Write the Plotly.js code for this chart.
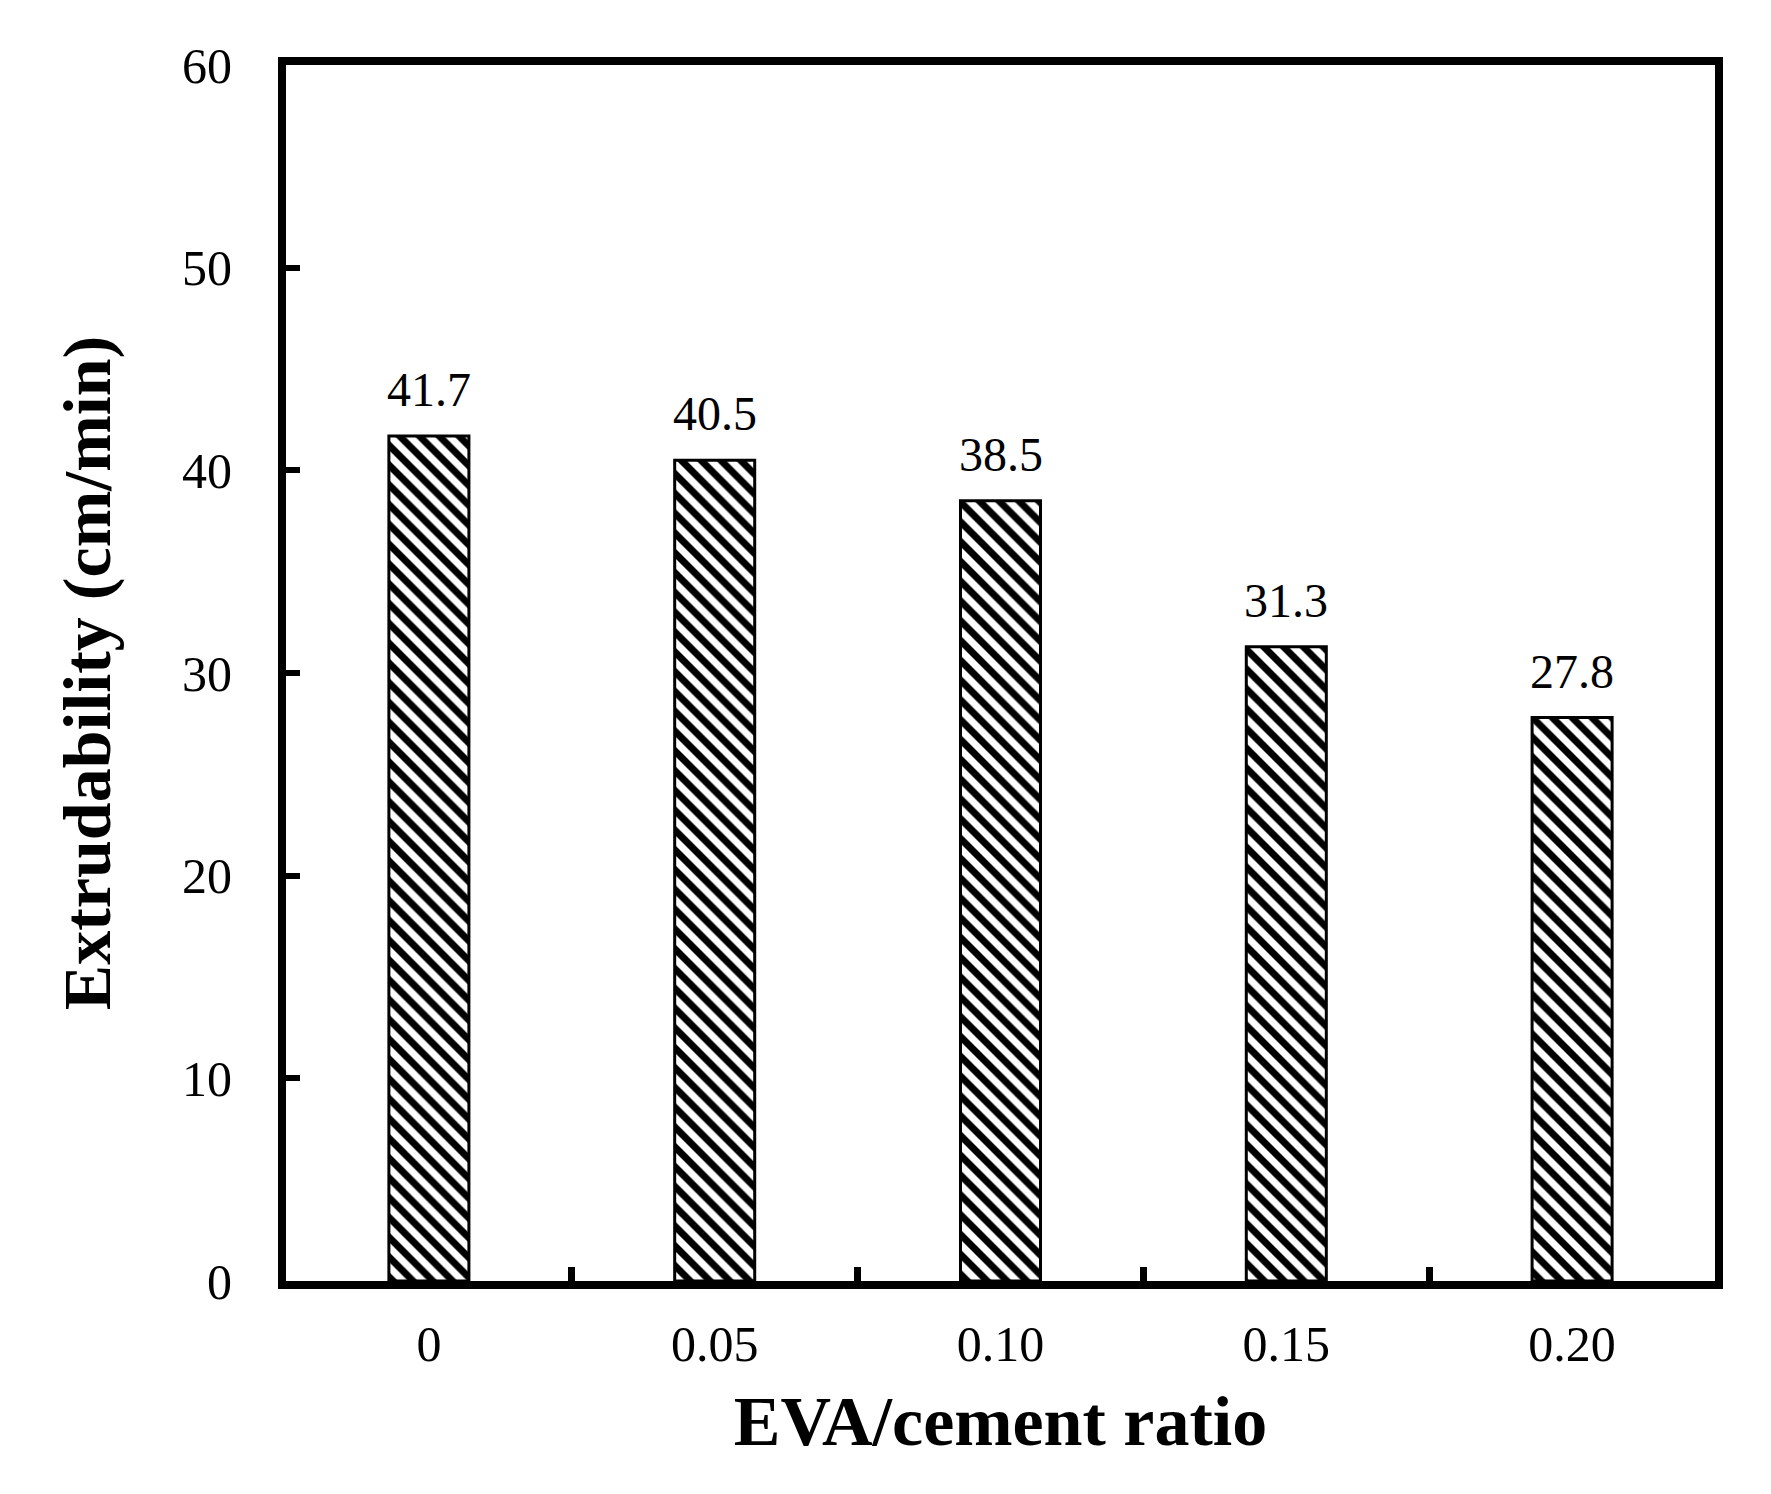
<!DOCTYPE html>
<html>
<head>
<meta charset="utf-8">
<script src="https://cdn.plot.ly/plotly-3.0.1.min.js"></script>
<style>
html,body{margin:0;padding:0;background:#fff;}
#chart{width:1771px;height:1494px;}
</style>
</head>
<body>
<div id="chart"></div>
<script>
const categories = ["0", "0.05", "0.10", "0.15", "0.20"];
const extrudability = [41.7, 40.5, 38.5, 31.3, 27.8];
const valueLabels = ["41.7", "40.5", "38.5", "31.3", "27.8"];
const yTickVals = [0, 10, 20, 30, 40, 50, 60];

const FONT = "'Times New Roman', 'Liberation Serif', serif";

const trace = {
  type: "bar",
  x: categories,
  y: extrudability,
  marker: {
    color: "#ffffff",
    line: {color: "#000000", width: 3},
    pattern: {shape: "\\", fgcolor: "#000000", bgcolor: "#ffffff", size: 14, solidity: 0.5, fillmode: "replace"}
  },
  hoverinfo: "x+y"
};

const annotations = categories.map((c, i) => ({
  x: i, y: extrudability[i], xref: "x", yref: "y",
  text: valueLabels[i], showarrow: false,
  yanchor: "bottom", yshift: 18,
  font: {family: FONT, size: 48, color: "#000"}
}));

const layout = {
  width: 1771, height: 1494,
  paper_bgcolor: "#fff", plot_bgcolor: "#fff",
  margin: {l: 286, r: 56, t: 65, b: 213, pad: 0},
  showlegend: false,
  bargap: 0.72,
  font: {family: FONT, color: "#000"},
  xaxis: {
    type: "category",
    showline: true, linecolor: "#000", linewidth: 8, mirror: true,
    ticks: "inside", tickson: "boundaries", ticklen: 14, tickwidth: 7, tickcolor: "#000",
    tickfont: {family: FONT, size: 50, color: "#000"},
    ticklabelstandoff: 12,
    showgrid: false, zeroline: false,
    title: {text: "<b>EVA/cement ratio</b>", font: {family: FONT, size: 70, color: "#000"}, standoff: 28}
  },
  yaxis: {
    range: [0, 60], tickvals: yTickVals, ticktext: yTickVals.map(String),
    showline: true, linecolor: "#000", linewidth: 8, mirror: true,
    ticks: "inside", ticklen: 14, tickwidth: 6, tickcolor: "#000",
    tickfont: {family: FONT, size: 50, color: "#000"},
    ticklabelstandoff: 36,
    showgrid: false, zeroline: false,
    title: {text: "<b>Extrudability (cm/min)</b>", font: {family: FONT, size: 68, color: "#000"}, standoff: 52}
  },
  annotations: annotations
};

Plotly.newPlot("chart", [trace], layout, {displayModeBar: false, staticPlot: true});
</script>
</body>
</html>
